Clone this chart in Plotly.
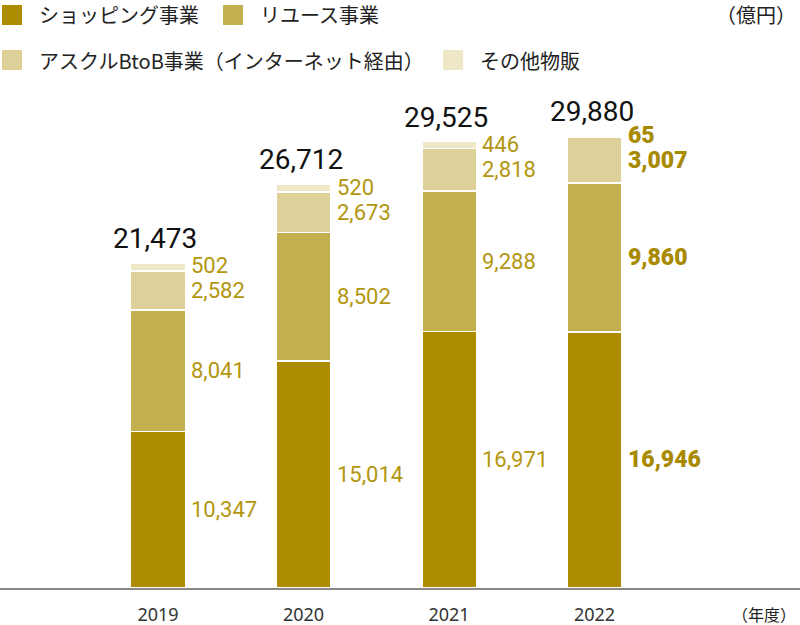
"""Stacked sales bars by business segment (億円)."""

import plotly.graph_objects as go

YEARS = ["2019", "2020", "2021", "2022"]
SEGMENTS = ["ショッピング事業", "リユース事業", "アスクルBtoB事業（インターネット経由）", "その他物販"]
SHOPPING = [10347, 15014, 16971, 16946]
REUSE = [8041, 8502, 9288, 9860]
ASKUL = [2582, 2673, 2818, 3007]
OTHER = [502, 520, 446, 65]
TOTALS = [21473, 26712, 29525, 29880]

COLORS = ["#AD8C00", "#C4AF4E", "#DDD099", "#EFE8C7"]
LABEL_COLOR = "#B3960F"
FONT = "Noto Sans CJK JP"
NUM_FONT = "Roboto"

series = [SHOPPING, REUSE, ASKUL, OTHER]

fig = go.Figure()
for name, values, color in zip(SEGMENTS, series, COLORS):
    fig.add_trace(
        go.Bar(
            x=YEARS,
            y=values,
            name=name,
            marker={"color": color, "line": {"color": "white", "width": 1.5}},
            width=0.375,
            showlegend=False,
            hoverinfo="skip",
        )
    )

annotations = []
for i, year in enumerate(YEARS):
    bold = year == "2022"
    seg_font = {
        "family": NUM_FONT,
        "size": 23 if bold else 22,
        "color": "#A88A00" if bold else LABEL_COLOR,
        "weight": 900 if bold else 400,
    }
    base = 0
    mids = []
    for values in series:
        mids.append(base + values[i] / 2)
        base += values[i]
    # category index as x: year strings look numeric to plotly.js
    for k in range(3):
        annotations.append(
            dict(
                x=i, y=mids[k], xref="x", yref="y",
                text=f"{series[k][i]:,}", showarrow=False,
                xanchor="left", yanchor="middle", xshift=31,
                font=seg_font,
            )
        )
    # other label sits just above the askul label
    annotations.append(
        dict(
            x=i, y=mids[2], xref="x", yref="y",
            text=f"{OTHER[i]:,}", showarrow=False,
            xanchor="left", yanchor="middle", xshift=31, yshift=25,
            font=seg_font,
        )
    )
    annotations.append(
        dict(
            x=i, y=TOTALS[i], xref="x", yref="y",
            text=f"{TOTALS[i]:,}", showarrow=False,
            xanchor="center", yanchor="bottom", xshift=-3, yshift=6,
            font={"family": NUM_FONT, "size": 28, "color": "#111111"},
        )
    )

# manual legend (two rows, uneven columns as in the original)
legend_pos = [(2, 15), (223, 15), (2, 60), (443, 60)]
shapes = []
for (lx, ly), name, color in zip(legend_pos, SEGMENTS, COLORS):
    shapes.append(
        dict(
            type="rect", xref="paper", yref="paper",
            x0=lx / 800, x1=(lx + 20) / 800,
            y0=1 - (ly + 10) / 588, y1=1 - (ly - 10) / 588,
            fillcolor=color, line={"width": 0},
        )
    )
    annotations.append(
        dict(
            x=(lx + 35) / 800, y=1 - ly / 588, xref="paper", yref="paper",
            text=name, showarrow=False, xanchor="left", yanchor="middle",
            font={"family": FONT, "size": 20, "color": "#222222"},
        )
    )

annotations.append(
    dict(
        x=1, y=1 - 15 / 588, xref="paper", yref="paper", text="（億円）",
        showarrow=False, xanchor="right", yanchor="middle", xshift=-2,
        font={"family": FONT, "size": 20, "color": "#222222"},
    )
)
annotations.append(
    dict(
        x=1, y=-26 / 588, xref="paper", yref="paper", text="（年度）",
        showarrow=False, xanchor="right", yanchor="middle", xshift=-2,
        font={"family": FONT, "size": 16, "color": "#222222"},
    )
)

fig.update_layout(
    barmode="stack",
    width=800,
    height=625,
    margin={"l": 0, "r": 0, "t": 0, "b": 37},
    paper_bgcolor="white",
    plot_bgcolor="white",
    font={"family": FONT},
    annotations=annotations,
    shapes=shapes,
    xaxis={
        "type": "category",
        "range": [-1.086, 4.412],
        "automargin": False,
        "showgrid": False,
        "showline": True,
        "linecolor": "#888888",
        "linewidth": 2,
        "ticks": "outside",
        "ticklen": 9,
        "tickcolor": "rgba(0,0,0,0)",
        "tickfont": {"family": "Noto Sans", "size": 18, "color": "#333333"},
        "fixedrange": True,
    },
    yaxis={
        "range": [0, 38900],
        "visible": False,
        "showgrid": False,
        "zeroline": False,
        "fixedrange": True,
    },
)

# the page body has a default 8px margin; drop it so the figure sits at 0,0
fig.write_html(
    "out.html",
    config={"displayModeBar": False},
    post_script="document.body.style.margin='0px';",
)
